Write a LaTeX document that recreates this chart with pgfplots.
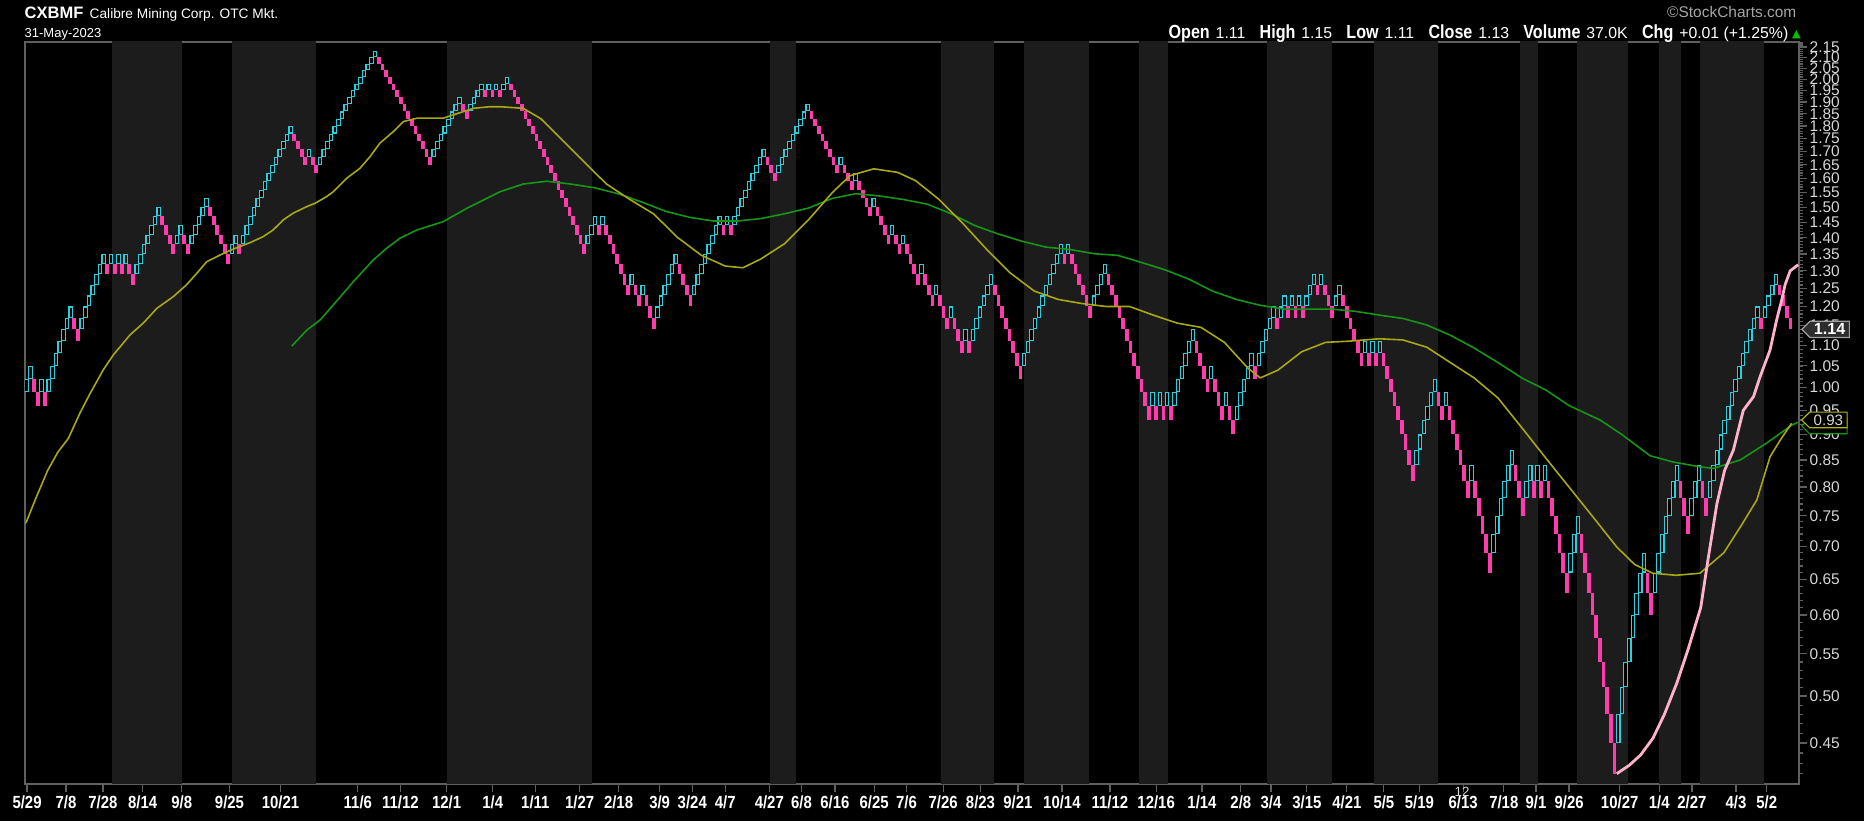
\documentclass[border=0pt]{standalone}
\usepackage{pgfplots}
\pgfplotsset{compat=1.18}
\usepackage{pgfplotstable}
\usepackage{fontspec}
\setmainfont{Liberation Sans}
\newfontfamily\nbold[FakeStretch=0.85]{Liberation Sans Bold}
\newfontfamily\dejavu{DejaVu Sans}
\usetikzlibrary{shapes.symbols}
\definecolor{brickcyan}{RGB}{40,208,224}
\definecolor{brickpink}{RGB}{255,60,172}
\definecolor{maYellow}{RGB}{168,168,20}
\definecolor{maGreen}{RGB}{22,150,22}
\definecolor{maPink}{RGB}{255,178,204}
\definecolor{band}{RGB}{28,28,28}
\definecolor{axisgray}{RGB}{95,95,95}
\definecolor{labgray}{RGB}{215,215,215}
\newcommand\hl[1]{{\nbold\fontsize{5.4}{6}\selectfont #1}}
\newcommand\gs{\hspace{0.59mm}}
\newcommand\gb{\hspace{1.43mm}}

\pgfplotstableread[row sep=\\]{x y\\
1 0.99\\ 2 1.02\\ 5 0.99\\ 7 0.99\\ 8 1.02\\ 9 1.05\\ 10 1.08\\ 11 1.11\\ 12 1.14\\ 13 1.17\\
16 1.14\\ 17 1.17\\ 18 1.20\\ 19 1.23\\ 20 1.26\\ 21 1.29\\ 22 1.32\\ 24 1.32\\ 26 1.32\\ 28 1.32\\
31 1.29\\ 32 1.32\\ 33 1.35\\ 34 1.38\\ 35 1.41\\ 36 1.44\\ 37 1.47\\ 42 1.38\\ 43 1.41\\
46 1.38\\ 47 1.41\\ 48 1.44\\ 49 1.47\\ 50 1.50\\ 57 1.35\\ 58 1.38\\
60 1.38\\ 61 1.41\\ 62 1.44\\ 63 1.47\\ 64 1.50\\ 65 1.53\\ 66 1.56\\ 67 1.59\\ 68 1.62\\ 69 1.65\\ 70 1.68\\ 71 1.71\\ 72 1.74\\ 73 1.77\\
78 1.68\\
81 1.65\\ 82 1.68\\ 83 1.71\\ 84 1.74\\ 85 1.77\\ 86 1.80\\ 87 1.83\\ 88 1.86\\ 89 1.89\\ 90 1.92\\ 91 1.95\\ 92 1.98\\ 93 2.01\\ 94 2.04\\ 95 2.07\\ 96 2.10\\
112 1.68\\ 113 1.71\\ 114 1.74\\ 115 1.77\\ 116 1.80\\ 117 1.83\\ 118 1.86\\ 119 1.89\\
122 1.86\\ 123 1.89\\ 124 1.92\\ 125 1.95\\ 127 1.95\\ 129 1.95\\ 131 1.95\\ 132 1.98\\
154 1.38\\ 155 1.41\\ 156 1.44\\ 158 1.44\\ 166 1.26\\ 169 1.23\\
173 1.17\\ 174 1.20\\ 175 1.23\\ 176 1.26\\ 177 1.29\\ 178 1.32\\
183 1.23\\ 184 1.26\\ 185 1.29\\ 186 1.32\\ 187 1.35\\ 188 1.38\\ 189 1.41\\ 190 1.44\\ 192 1.44\\
194 1.44\\ 195 1.47\\ 196 1.50\\ 197 1.53\\ 198 1.56\\ 199 1.59\\ 200 1.62\\ 201 1.65\\ 202 1.68\\
206 1.62\\ 207 1.65\\ 208 1.68\\ 209 1.71\\ 210 1.74\\ 211 1.77\\ 212 1.80\\ 213 1.83\\ 214 1.86\\
223 1.65\\ 227 1.59\\ 232 1.50\\ 237 1.41\\ 240 1.38\\ 245 1.29\\ 249 1.23\\ 253 1.17\\ 257 1.11\\
259 1.11\\ 260 1.14\\ 261 1.17\\ 262 1.20\\ 263 1.23\\ 264 1.26\\
273 1.05\\ 274 1.08\\ 275 1.11\\ 276 1.14\\ 277 1.17\\ 278 1.20\\ 279 1.23\\ 280 1.26\\ 281 1.29\\ 282 1.32\\ 283 1.35\\ 285 1.35\\
292 1.20\\ 293 1.23\\ 294 1.26\\ 295 1.29\\
308 0.96\\ 310 0.96\\ 312 0.96\\ 314 0.96\\ 315 0.99\\ 316 1.02\\ 317 1.05\\ 318 1.08\\ 319 1.11\\
324 1.02\\ 328 0.96\\ 331 0.93\\ 332 0.96\\ 333 0.99\\ 334 1.02\\ 335 1.05\\
337 1.05\\ 338 1.08\\ 339 1.11\\ 340 1.14\\ 341 1.17\\ 343 1.17\\ 344 1.20\\ 346 1.20\\ 348 1.20\\
350 1.20\\ 351 1.23\\ 352 1.26\\ 354 1.26\\ 358 1.20\\ 359 1.23\\ 366 1.08\\ 368 1.08\\ 370 1.08\\
380 0.84\\ 381 0.87\\ 382 0.90\\ 383 0.93\\ 384 0.96\\ 385 0.99\\ 388 0.96\\ 395 0.81\\
401 0.69\\ 402 0.72\\ 403 0.75\\ 404 0.78\\ 405 0.81\\ 406 0.84\\ 410 0.78\\ 411 0.81\\ 413 0.81\\ 415 0.81\\
422 0.66\\ 423 0.69\\ 424 0.72\\
435 0.45\\ 436 0.48\\ 437 0.51\\ 438 0.54\\ 439 0.57\\ 440 0.60\\ 441 0.63\\ 442 0.66\\
445 0.63\\ 446 0.66\\ 447 0.69\\ 448 0.72\\ 449 0.75\\ 450 0.78\\ 451 0.81\\
455 0.75\\ 456 0.78\\ 457 0.81\\
460 0.78\\ 461 0.81\\ 462 0.84\\ 463 0.87\\ 464 0.90\\ 465 0.93\\ 466 0.96\\ 467 0.99\\ 468 1.02\\ 469 1.05\\ 470 1.08\\ 471 1.11\\ 472 1.14\\ 473 1.17\\
475 1.17\\ 476 1.20\\ 477 1.23\\ 478 1.26\\
}\upbricks

\pgfplotstableread[row sep=\\]{x y\\
3 0.99\\ 4 0.96\\ 6 0.96\\ 14 1.14\\ 15 1.11\\ 23 1.29\\ 25 1.29\\ 27 1.29\\ 29 1.29\\ 30 1.26\\
38 1.44\\ 39 1.41\\ 40 1.38\\ 41 1.35\\ 44 1.38\\ 45 1.35\\
51 1.47\\ 52 1.44\\ 53 1.41\\ 54 1.38\\ 55 1.35\\ 56 1.32\\ 59 1.35\\
74 1.74\\ 75 1.71\\ 76 1.68\\ 77 1.65\\ 79 1.65\\ 80 1.62\\
97 2.07\\ 98 2.04\\ 99 2.01\\ 100 1.98\\ 101 1.95\\ 102 1.92\\ 103 1.89\\ 104 1.86\\ 105 1.83\\ 106 1.80\\ 107 1.77\\ 108 1.74\\ 109 1.71\\ 110 1.68\\ 111 1.65\\
120 1.86\\ 121 1.83\\ 126 1.92\\ 128 1.92\\ 130 1.92\\
133 1.95\\ 134 1.92\\ 135 1.89\\ 136 1.86\\ 137 1.83\\ 138 1.80\\ 139 1.77\\ 140 1.74\\ 141 1.71\\ 142 1.68\\ 143 1.65\\ 144 1.62\\ 145 1.59\\ 146 1.56\\ 147 1.53\\ 148 1.50\\ 149 1.47\\ 150 1.44\\ 151 1.41\\ 152 1.38\\ 153 1.35\\
157 1.41\\
159 1.41\\ 160 1.38\\ 161 1.35\\ 162 1.32\\ 163 1.29\\ 164 1.26\\ 165 1.23\\
167 1.23\\ 168 1.20\\ 170 1.20\\ 171 1.17\\ 172 1.14\\
179 1.29\\ 180 1.26\\ 181 1.23\\ 182 1.20\\
191 1.41\\ 193 1.41\\
203 1.65\\ 204 1.62\\ 205 1.59\\
215 1.83\\ 216 1.80\\ 217 1.77\\ 218 1.74\\ 219 1.71\\ 220 1.68\\ 221 1.65\\ 222 1.62\\
224 1.62\\ 225 1.59\\ 226 1.56\\ 228 1.56\\ 229 1.53\\ 230 1.50\\ 231 1.47\\
233 1.47\\ 234 1.44\\ 235 1.41\\ 236 1.38\\ 238 1.38\\ 239 1.35\\
241 1.35\\ 242 1.32\\ 243 1.29\\ 244 1.26\\
246 1.26\\ 247 1.23\\ 248 1.20\\ 250 1.20\\ 251 1.17\\ 252 1.14\\ 254 1.14\\ 255 1.11\\ 256 1.08\\ 258 1.08\\
265 1.23\\ 266 1.20\\ 267 1.17\\ 268 1.14\\ 269 1.11\\ 270 1.08\\ 271 1.05\\ 272 1.02\\
284 1.32\\ 286 1.32\\ 287 1.29\\ 288 1.26\\ 289 1.23\\ 290 1.20\\ 291 1.17\\
296 1.26\\ 297 1.23\\ 298 1.20\\ 299 1.17\\ 300 1.14\\ 301 1.11\\ 302 1.08\\ 303 1.05\\ 304 1.02\\ 305 0.99\\ 306 0.96\\ 307 0.93\\
309 0.93\\ 311 0.93\\ 313 0.93\\
320 1.08\\ 321 1.05\\ 322 1.02\\ 323 0.99\\ 325 0.99\\ 326 0.96\\ 327 0.93\\ 329 0.93\\ 330 0.90\\
336 1.02\\ 342 1.14\\ 345 1.17\\ 347 1.17\\ 349 1.17\\ 353 1.23\\
355 1.23\\ 356 1.20\\ 357 1.17\\
360 1.20\\ 361 1.17\\ 362 1.14\\ 363 1.11\\ 364 1.08\\ 365 1.05\\ 367 1.05\\ 369 1.05\\
371 1.05\\ 372 1.02\\ 373 0.99\\ 374 0.96\\ 375 0.93\\ 376 0.90\\ 377 0.87\\ 378 0.84\\ 379 0.81\\
386 0.96\\ 387 0.93\\
389 0.93\\ 390 0.90\\ 391 0.87\\ 392 0.84\\ 393 0.81\\ 394 0.78\\
396 0.78\\ 397 0.75\\ 398 0.72\\ 399 0.69\\ 400 0.66\\
407 0.81\\ 408 0.78\\ 409 0.75\\ 412 0.78\\ 414 0.78\\
416 0.78\\ 417 0.75\\ 418 0.72\\ 419 0.69\\ 420 0.66\\ 421 0.63\\
425 0.69\\ 426 0.66\\ 427 0.63\\ 428 0.60\\ 429 0.57\\ 430 0.54\\ 431 0.51\\ 432 0.48\\ 433 0.45\\ 434 0.42\\
443 0.63\\ 444 0.60\\
452 0.78\\ 453 0.75\\ 454 0.72\\ 458 0.78\\ 459 0.75\\
474 1.14\\
479 1.23\\ 480 1.20\\ 481 1.17\\ 482 1.14\\
}\downbricks

\begin{document}
\begin{tikzpicture}
\fill[black] (-2.5mm,-3.7mm) rectangle (183.9mm,78.4mm);
\begin{axis}[
  at={(0,0)}, anchor=south west,
  scale only axis, width=177.4mm, height=74.2mm,
  xmin=0.536, xmax=484.3,
  ymode=log, ymin=0.4104, ymax=2.174,
  axis line style={draw=axisgray, line width=0.15mm},
  tick align=outside,
  xtick pos=bottom, ytick pos=right, yticklabel pos=right,
  major tick length=0.8mm, minor tick length=0.35mm,
  every tick/.style={draw=axisgray, line width=0.12mm},
  xtick={1.1,11.7,21.8,32.6,43.3,56.3,70.2,91.3,102.9,115.5,128.1,139.7,151.8,162.4,173.6,182.5,191.5,203.5,212.3,221.4,232.1,240.9,250.9,261.1,271.3,283.3,296.4,309,321.5,332.1,340.3,350.1,361,371.1,380.8,392.7,403.8,412.6,421.6,435.4,446.2,455.1,467.1,475.5},
  xticklabels={5/29,7/8,7/28,8/14,9/8,9/25,10/21,11/6,11/12,12/1,1/4,1/11,1/27,2/18,3/9,3/24,4/7,4/27,6/8,6/16,6/25,7/6,7/26,8/23,9/21,10/14,11/12,12/16,1/14,2/8,3/4,3/15,4/21,5/5,5/19,6/13,7/18,9/1,9/26,10/27,1/4,2/27,4/3,5/2},
  ytick={0.45,0.50,0.55,0.60,0.65,0.70,0.75,0.80,0.85,0.90,0.95,1.00,1.05,1.10,1.15,1.20,1.25,1.30,1.35,1.40,1.45,1.50,1.55,1.60,1.65,1.70,1.75,1.80,1.85,1.90,1.95,2.00,2.05,2.10,2.15},
  yticklabels={0.45,0.50,0.55,0.60,0.65,0.70,0.75,0.80,0.85,0.90,0.95,1.00,1.05,1.10,1.15,1.20,1.25,1.30,1.35,1.40,1.45,1.50,1.55,1.60,1.65,1.70,1.75,1.80,1.85,1.90,1.95,2.00,2.05,2.10,2.15},
  minor ytick={0.42,0.43,...,2.17},
  x tick label style={font=\nbold\fontsize{5}{6}\selectfont, text=white, inner sep=0.3mm},
  y tick label style={font=\fontsize{4.4}{5}\selectfont, text=labgray, anchor=west, inner sep=0.2mm},
]
% background bands
\addplot[draw=none, fill=band, forget plot] coordinates {(24.2,0.40) (24.2,2.2) (43.3,2.2) (43.3,0.40)} -- cycle;
\addplot[draw=none, fill=band, forget plot] coordinates {(57.1,0.40) (57.1,2.2) (80.0,2.2) (80.0,0.40)} -- cycle;
\addplot[draw=none, fill=band, forget plot] coordinates {(115.5,0.40) (115.5,2.2) (155.2,2.2) (155.2,0.40)} -- cycle;
\addplot[draw=none, fill=band, forget plot] coordinates {(203.8,0.40) (203.8,2.2) (210.8,2.2) (210.8,0.40)} -- cycle;
\addplot[draw=none, fill=band, forget plot] coordinates {(250.3,0.40) (250.3,2.2) (264.9,2.2) (264.9,0.40)} -- cycle;
\addplot[draw=none, fill=band, forget plot] coordinates {(272.9,0.40) (272.9,2.2) (290.6,2.2) (290.6,0.40)} -- cycle;
\addplot[draw=none, fill=band, forget plot] coordinates {(304.2,0.40) (304.2,2.2) (312.3,2.2) (312.3,0.40)} -- cycle;
\addplot[draw=none, fill=band, forget plot] coordinates {(339.1,0.40) (339.1,2.2) (357.0,2.2) (357.0,0.40)} -- cycle;
\addplot[draw=none, fill=band, forget plot] coordinates {(368.5,0.40) (368.5,2.2) (385.8,2.2) (385.8,0.40)} -- cycle;
\addplot[draw=none, fill=band, forget plot] coordinates {(408.2,0.40) (408.2,2.2) (413.0,2.2) (413.0,0.40)} -- cycle;
\addplot[draw=none, fill=band, forget plot] coordinates {(423.8,0.40) (423.8,2.2) (437.6,2.2) (437.6,0.40)} -- cycle;
\addplot[draw=none, fill=band, forget plot] coordinates {(446.2,0.40) (446.2,2.2) (452.2,2.2) (452.2,0.40)} -- cycle;
\addplot[draw=none, fill=band, forget plot] coordinates {(457.3,0.40) (457.3,2.2) (474.7,2.2) (474.7,0.40)} -- cycle;

% up bricks: hollow cyan
\addplot[draw=none, mark=none, forget plot,
  error bars/.cd, y dir=plus, y fixed=0.03, error mark=none,
  error bar style={draw=brickcyan, line width=0.46mm}] table[x=x,y=y] {\upbricks};
\addplot[draw=none, mark=none, forget plot,
  error bars/.cd, y dir=plus, y fixed=0.03, error mark=none,
  error bar style={draw=black, line width=0.24mm, shorten <=0.11mm, shorten >=0.11mm}] table[x=x,y=y] {\upbricks};
% down bricks: solid pink
\addplot[draw=none, mark=none, forget plot,
  error bars/.cd, y dir=plus, y fixed=0.03, error mark=none,
  error bar style={draw=brickpink, line width=0.38mm}] table[x=x,y=y] {\downbricks};

% green moving average
\addplot[maGreen, line width=0.16mm, mark=none, line join=round] coordinates {
(73.3,1.098)(77.4,1.138)(81,1.164)(84.6,1.204)(90.1,1.269)(95.5,1.332)(99.2,1.368)(102.8,1.399)(107.4,1.425)(114.6,1.452)(121,1.496)(130.1,1.553)(136.4,1.58)(142.8,1.59)(149.3,1.58)(155.8,1.567)(162.3,1.546)(168.8,1.517)(175.3,1.486)(181.8,1.466)(188.2,1.454)(194.7,1.454)(201.2,1.462)(207.7,1.478)(214.2,1.497)(220.7,1.53)(227.1,1.546)(233.6,1.538)(240.1,1.526)(246.6,1.51)(253.1,1.478)(259.6,1.439)(266,1.412)(272.5,1.389)(279,1.371)(285.5,1.364)(292,1.351)(298.5,1.346)(304.9,1.325)(311.4,1.303)(317.9,1.276)(324.4,1.242)(330.9,1.219)(337.4,1.203)(343.8,1.193)(350.3,1.193)(356.8,1.193)(363.3,1.187)(369.8,1.177)(376.3,1.168)(382.8,1.151)(389.2,1.125)(395.7,1.093)(402.2,1.058)(408.7,1.022)(415.2,0.995)(421.7,0.96)(430,0.93)(436,0.90)(443.7,0.858)(450,0.846)(457.3,0.837)(461,0.834)(468.3,0.85)(475.5,0.883)(482.3,0.919)(484,0.925)};

% yellow moving average
\addplot[maYellow, line width=0.16mm, mark=none, line join=round] coordinates {
(0.8,0.738)(3.5,0.78)(6.7,0.83)(9.5,0.865)(12.35,0.892)(15.5,0.944)(18.3,0.987)(21.9,1.041)(24.6,1.076)(29.2,1.126)(32.8,1.156)(36.5,1.195)(41,1.227)(44.6,1.26)(47.4,1.293)(50.1,1.327)(53.7,1.347)(57.3,1.365)(61.9,1.385)(65.5,1.404)(68.2,1.425)(71,1.458)(73.7,1.48)(77.4,1.502)(79.6,1.513)(82.8,1.536)(84.6,1.553)(88.3,1.601)(91.9,1.637)(94.6,1.68)(97.3,1.732)(101,1.778)(103.7,1.818)(107.4,1.832)(114.6,1.832)(119.2,1.855)(122.8,1.873)(127.3,1.88)(130.1,1.88)(136.4,1.873)(141.2,1.83)(146.1,1.758)(152.6,1.666)(159.1,1.58)(165.5,1.526)(172,1.477)(178.5,1.401)(185,1.346)(191.5,1.314)(196.3,1.309)(201.2,1.335)(207.7,1.382)(214.2,1.458)(220.7,1.55)(225.5,1.61)(232,1.635)(238.5,1.622)(243.4,1.592)(249.8,1.526)(256.3,1.446)(262.8,1.364)(269.3,1.293)(275.8,1.242)(282.3,1.219)(288.7,1.208)(295.2,1.2)(301.7,1.2)(308.2,1.177)(314.7,1.156)(321.2,1.145)(327.6,1.107)(334.1,1.044)(337.4,1.022)(342.2,1.04)(348.7,1.084)(355.2,1.107)(361.7,1.11)(369.8,1.116)(376.3,1.113)(382.8,1.095)(389.2,1.058)(395.7,1.022)(402.2,0.977)(408.7,0.914)(415.2,0.854)(421.7,0.799)(428.1,0.748)(434.6,0.699)(439.5,0.672)(444.4,0.659)(450.8,0.656)(457.3,0.659)(463.8,0.69)(468.7,0.735)(472.8,0.777)(476.4,0.856)(479.2,0.889)(482.3,0.923)};

% light pink line
\addplot[maPink, line width=0.28mm, mark=none, line join=round] coordinates {
(434.6,0.42)(438,0.428)(441.1,0.438)(444.5,0.455)(447.6,0.48)(451,0.515)(454.1,0.556)(457.5,0.61)(459.5,0.68)(461.9,0.77)(464,0.83)(466.4,0.869)(469.1,0.95)(471.9,0.98)(473.7,1.025)(476.4,1.088)(478.2,1.164)(479.6,1.218)(480.5,1.26)(481.9,1.30)(484.1,1.318)};
\end{axis}

% header
\node[anchor=base west, inner sep=0, text=white, font=\bfseries\fontsize{4.7}{5}\selectfont] at (-0.1mm,76.5mm) {CXBMF};
\node[anchor=base west, inner sep=0, text=white, font=\fontsize{3.9}{5}\selectfont] at (6.4mm,76.5mm) {Calibre Mining Corp. OTC Mkt.};
\node[anchor=base west, inner sep=0, text=white, font=\fontsize{3.7}{5}\selectfont] at (-0.1mm,74.6mm) {31-May-2023};
\node[anchor=base east, inner sep=0, text=gray!70, font=\fontsize{4.4}{5}\selectfont] at (177.2mm,76.6mm) {\textcopyright StockCharts.com};
\node[anchor=base east, inner sep=0, text=white, font=\fontsize{4.5}{5}\selectfont] at (176.4mm,74.5mm)
  {\hl{Open}\gs 1.11\gb\hl{High}\gs 1.15\gb\hl{Low}\gs 1.11\gb\hl{Close}\gs 1.13\gb\hl{Volume}\gs 37.0K\gb\hl{Chg}\gs +0.01 (+1.25\%)};
\node[inner sep=0, text=green!75!black, font=\dejavu\fontsize{3.2}{4}\selectfont] at (177.15mm,74.95mm) {▲};
% the small "12" mark
\node[inner sep=0, text=labgray, font=\fontsize{3.8}{4}\selectfont] at (143.7mm,-0.75mm) {12};

% right-hand value flags
\node[signal, signal to=west, anchor=west, fill=black, draw=maGreen, line width=0.12mm, inner xsep=0.4mm, inner ysep=0.25mm, font=\fontsize{4.3}{5}\selectfont] at (177.6mm,35.8mm) {\phantom{0.93}};
\node[signal, signal to=west, anchor=west, fill=black, draw=maYellow!90!yellow, line width=0.12mm, inner xsep=0.4mm, inner ysep=0.25mm, text=labgray, font=\fontsize{4.3}{5}\selectfont] at (177.6mm,36.4mm) {0.93};
\node[signal, signal to=west, anchor=west, fill=gray!35!black, draw=gray!75, line width=0.12mm, inner xsep=0.4mm, inner ysep=0.25mm, text=white, font=\bfseries\fontsize{4.6}{5}\selectfont] at (177.6mm,45.46mm) {1.14};
\end{tikzpicture}
\end{document}
